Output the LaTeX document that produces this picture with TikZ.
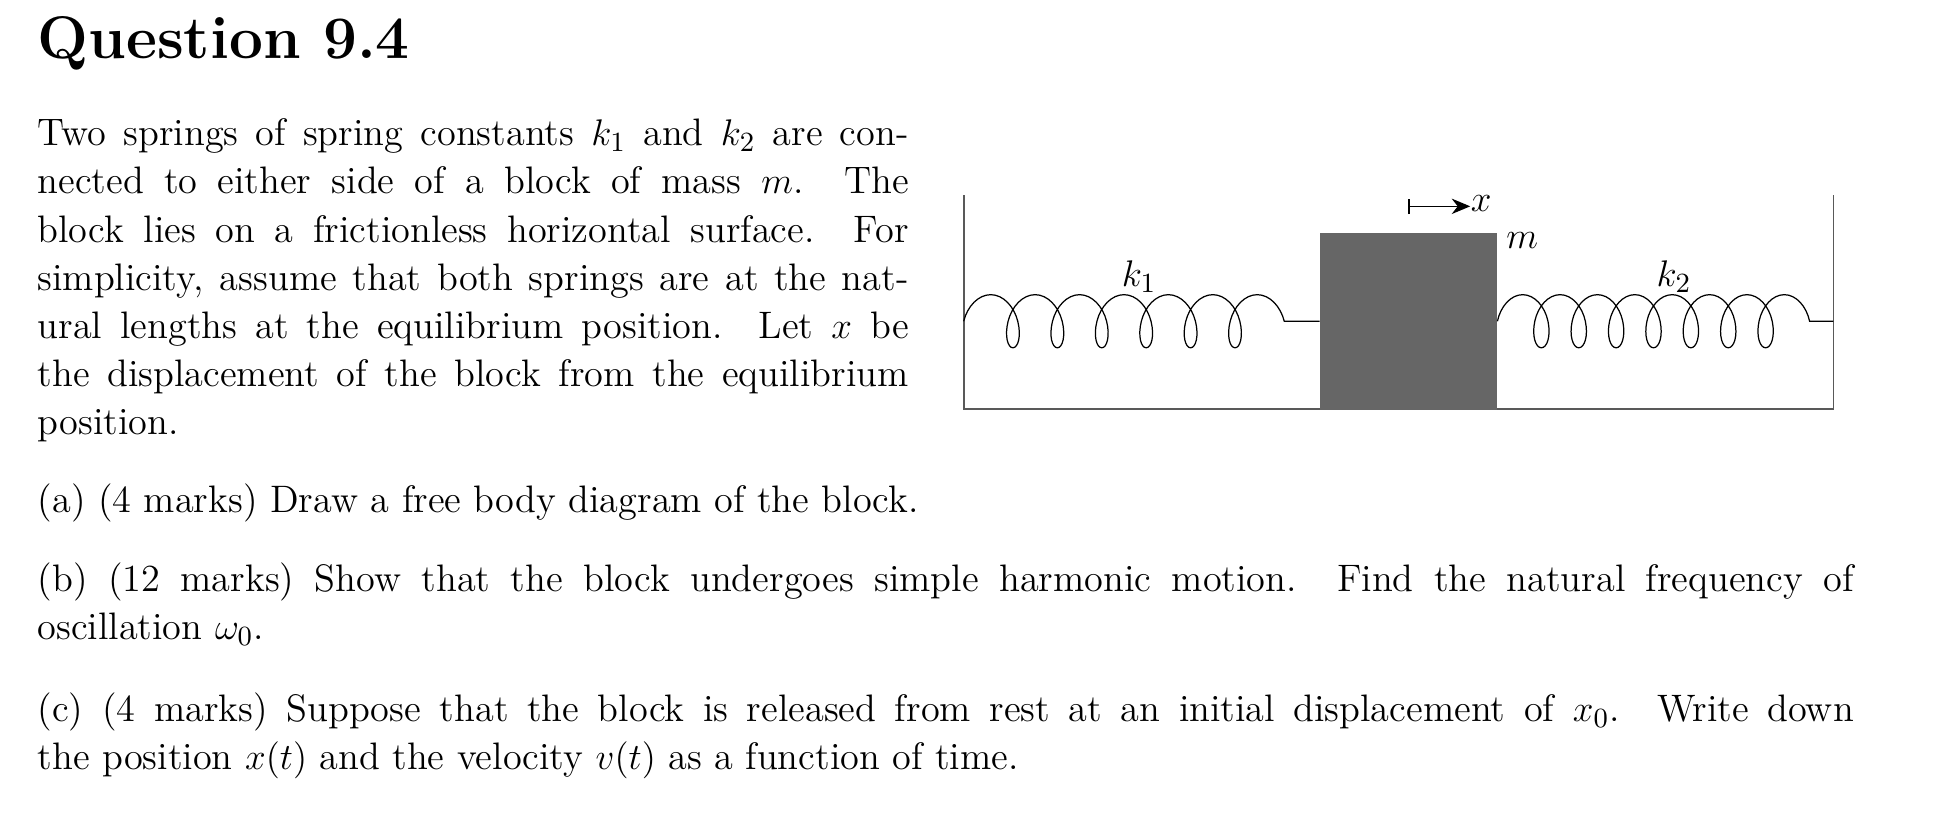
\documentclass[tikz,border=0pt]{standalone}
\usetikzlibrary{decorations.pathmorphing,arrows.meta}
\begin{document}
\begin{tikzpicture}[x=0.4pt,y=-0.4pt,
  txt/.style={anchor=base west,inner sep=0pt,font=\fontsize{12.4}{15.6}\selectfont},
  spring/.style={decorate,decoration={coil,aspect=0.6,amplitude=8.6pt,pre length=0pt,post length=0pt}},
  lbl/.style={inner sep=0pt,font=\fontsize{13}{15}\selectfont}]
\useasboundingbox (0,0) rectangle (1567,668);
\node[txt,font=\fontsize{19.5}{25}\selectfont\bfseries] (q) at (30,47) {Question 9.4};
\node[txt] (p) at (30,118) {\parbox[t]{282pt}{\fontsize{12.4}{15.6}\selectfont
Two springs of spring constants $k_1$ and $k_2$ are con-\linebreak
nected to either side of a block of mass $m$.\ \ The\linebreak
block lies on a frictionless horizontal surface.\ \ For\linebreak
simplicity, assume that both springs are at the nat-\linebreak
ural lengths at the equilibrium position.\ \ Let $x$ be\linebreak
the displacement of the block from the equilibrium\linebreak
position.}};
\node[txt] (a) at (30,415) {(a) (4 marks) Draw a free body diagram of the block.};
\node[txt] (b) at (30,479) {\parbox[t]{588pt}{\fontsize{12.4}{15.6}\selectfont
(b) (12 marks) Show that the block undergoes simple harmonic motion. Find the natural frequency of\linebreak
oscillation $\omega_0$.}};
\node[txt] (c) at (30,584) {\parbox[t]{588pt}{\fontsize{12.4}{15.6}\selectfont
(c) (4 marks) Suppose that the block is released from rest at an initial displacement of $x_0$.\ \ Write down\linebreak
the position $x(t)$ and the velocity $v(t)$ as a function of time.}};
% diagram
\draw[gray!70!black,line width=0.6pt] (780,158) -- (780,331) -- (1484,331) -- (1484,158);
\node[draw=none,fill=black!60,minimum width=57.2pt,minimum height=57.2pt,inner sep=0pt,anchor=north west] (blk) at (1068,188) {};
\coordinate (l1) at (780,260);
\coordinate (r2) at (1484,260);
\draw[spring,decoration={segment length=14.38pt}] (l1) -- (blk.west |- l1);
\draw[spring,decoration={segment length=12.1pt}] (blk.east |- r2) -- (r2);
\coordinate (xs) at (1140,167);
\coordinate (xe) at (1190,167);
\draw[{Bar[width=5pt]}-{Stealth[length=6pt,width=5pt]},line width=0.4pt] (xs) -- (xe);
\node[lbl,anchor=west] (xl) at (1190,165) {$x$};
\node[lbl] (m) at (1232,195) {$m$};
\node[lbl] (k1) at (922,224) {$k_1$};
\node[lbl] (k2) at (1355,224) {$k_2$};
\end{tikzpicture}
\end{document}
